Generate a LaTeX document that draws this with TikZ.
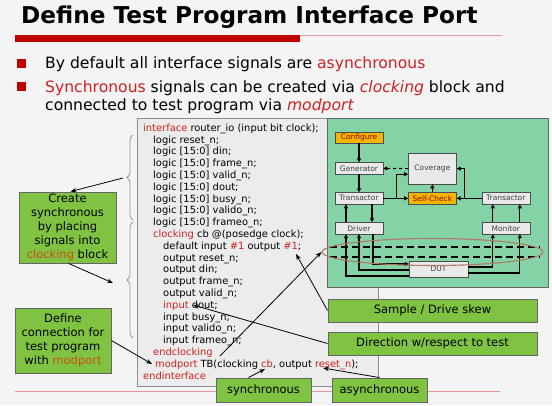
\documentclass[tikz,border=0pt]{standalone}
\usepackage{fontspec}
\setmainfont{DejaVu Sans}
\usetikzlibrary{positioning,arrows.meta,shapes.geometric,decorations.pathreplacing}
\definecolor{pageC}{HTML}{F4F4F4}
\definecolor{codeC}{HTML}{ECECEC}
\definecolor{keyC}{HTML}{D02020}
\definecolor{barC}{HTML}{C00000}
\definecolor{panelC}{HTML}{84D3A7}
\definecolor{unitC}{HTML}{E9E9E9}
\definecolor{goldC}{HTML}{F2B500}
\definecolor{calloutC}{HTML}{80C343}
\definecolor{orangeC}{HTML}{C8500A}
\definecolor{ringC}{HTML}{B07A68}
\newcommand{\kw}[1]{{\color{keyC}#1}}
\newcommand{\hl}[1]{{\color{orangeC}#1}}
\tikzset{
  unit/.style={draw=black!70, fill=unitC, font=\fontsize{7.5}{8}\selectfont, text=black!75,
               inner sep=0pt, minimum width=48pt, minimum height=11.5pt},
  hotunit/.style={unit, fill=goldC, text=red!60!black},
  flow/.style={-{Triangle[length=4pt,width=4pt]}, line width=1.2pt},
  callout/.style={draw=black!60, line width=0.9pt, fill=calloutC, align=center, inner sep=2pt,
                  font=\fontsize{11.5}{14}\selectfont},
  ptr/.style={-{Stealth[length=6pt,width=4.5pt]}, line width=0.8pt},
  curly/.style={decorate, decoration={brace, amplitude=6pt}, draw=black!40, line width=0.8pt},
  bullettxt/.style={anchor=base west, inner sep=0pt, font=\fontsize{15.6}{18}\selectfont},
}

\begin{document}
\begin{tikzpicture}[x=1pt, y=-1pt]
\useasboundingbox[fill=pageC] (0,0) rectangle (552,405);
% title and bullets
\node[anchor=base west, inner sep=0pt, font=\fontsize{23.2}{26}\selectfont\bfseries] (title) at (21,23.5)
  {Define Test Program Interface Port};
\draw[barC!40, line width=1pt] (15,35.5) -- (502,35.5);
\fill[barC] (15,35) rectangle (300,41.5);
\fill[barC] (17,59) rectangle (26,68);
\fill[barC] (17,82) rectangle (26,91);
\node[bullettxt] (line1) at (45,68) {By default all interface signals are \kw{asynchronous}};
\node[bullettxt] (line2) at (45,92.5) {\kw{Synchronous} signals can be created via \kw{\itshape clocking} block and};
\node[bullettxt] (line3) at (45,110.5) {connected to test program via \kw{\itshape modport}};

% code listing
\draw[black!45, fill=codeC] (137,118) rectangle (378,386);
\node[anchor=north west, inner sep=0pt, align=left, font=\fontsize{9.9}{11.8}\selectfont] (code) at (143,123.5) {%
\kw{interface} router\_io (input bit clock);\\
\hspace*{10pt}logic reset\_n;\\
\hspace*{10pt}logic [15:0] din;\\
\hspace*{10pt}logic [15:0] frame\_n;\\
\hspace*{10pt}logic [15:0] valid\_n;\\
\hspace*{10pt}logic [15:0] dout;\\
\hspace*{10pt}logic [15:0] busy\_n;\\
\hspace*{10pt}logic [15:0] valido\_n;\\
\hspace*{10pt}logic [15:0] frameo\_n;\\
\hspace*{10pt}\kw{clocking} cb @(posedge clock);\\
\hspace*{20pt}default input \kw{\#1} output \kw{\#1};\\
\hspace*{20pt}output reset\_n;\\
\hspace*{20pt}output din;\\
\hspace*{20pt}output frame\_n;\\
\hspace*{20pt}output valid\_n;\\
\hspace*{20pt}\kw{input} dout;\\
\hspace*{20pt}input busy\_n;\\
\hspace*{20pt}input valido\_n;\\
\hspace*{20pt}input frameo\_n;\\
\hspace*{10pt}\kw{endclocking}\\
\hspace*{12pt}\kw{modport} TB(clocking \kw{cb}, output \kw{reset\_n});\\
\kw{endinterface}};
\draw[curly] (133,220) -- (133,135);
\draw[curly] (133,338) -- (133,222);
\coordinate (grp1) at (123,178);
\coordinate (grp2) at (113,283);
\coordinate (hsh) at (296,254);
\coordinate (dout) at (193,305);
\coordinate (mdp) at (152,364);
\coordinate (tb) at (220,356);
\coordinate (cbm) at (265,369);
\coordinate (rst) at (323,368);

% testbench panel
\draw[black!60, fill=panelC] (327,118) rectangle (548,287);
\node[hotunit] (conf) at (359,137.5) {Configure};
\node[unit, below=19pt of conf] (gen) {Generator};
\node[unit, below=18pt of gen] (trl) {Transactor};
\node[unit, below=18pt of trl] (drv) {Driver};
\node[hotunit, right=25pt of trl] (sc) {Self-Check};
\node[unit, right=25pt of sc] (trr) {Transactor};
\node[unit, below=18pt of trr] (mon) {Monitor};
\node[unit, above=8pt of sc, minimum height=31pt] (cov) {Coverage};
\node[unit, minimum width=59pt, minimum height=16pt] (dut) at (438.5,269) {DUT};
\draw[flow] (conf) -- (gen);
\draw[flow] (gen) -- (trl);
\draw[flow, dashed] (cov.west) -- (gen.east);
\draw[flow] (trl) -- (sc);
\draw[flow] ([xshift=13pt]trl.east) |- ([yshift=-5.5pt]cov.west);
\draw[flow] (sc) -- (cov);
\draw[flow] (trr) -- (sc);
\draw[flow] ([xshift=-17pt]trr.west) |- (cov.east);
\draw[flow] ([xshift=13pt]trl.south) -- ([xshift=13pt]drv.north);
\draw[flow] ([xshift=-13pt]drv.north) -- ([xshift=-13pt]trl.south);
\draw[flow] ([xshift=-13pt]mon.north) -- ([xshift=-13pt]trr.south);
\draw[flow] ([xshift=14pt]mon.north) -- ([xshift=14pt]trr.south);
\draw[flow] ([xshift=14pt]drv.south) |- ([yshift=5pt]dut.west);
\draw[flow] ([yshift=-1pt]dut.west) -| (drv.south);
\draw[flow] ([yshift=-7pt]dut.west) -| ([xshift=-13pt]drv.south);
\draw[flow] ([yshift=2pt]dut.east) -| ([xshift=-13pt]mon.south);
\draw[flow] ([yshift=-4pt]dut.east) -| ([xshift=14pt]mon.south);
\draw[line width=1.1pt, dash pattern=on 7pt off 4pt] (330,247) -- (540,247);
\draw[line width=1.1pt, dash pattern=on 7pt off 4pt] (330,257) -- (540,257);
\node[ellipse, draw=ringC, line width=1.1pt, minimum width=221pt, minimum height=27pt] (skw) at (432.5,252) {};

% callouts
\draw[barC!40, line width=1.3pt] (15,391.5) -- (500,391.5);
\node[callout, minimum width=97pt, minimum height=69pt] (crt) at (67.5,227.5)
  {Create\\synchronous\\by placing\\signals into\\\hl{clocking} block};
\node[callout, minimum width=96pt, minimum height=65pt] (dfn) at (63,340.5)
  {Define\\connection for\\test program\\with \hl{modport}};
\node[callout, minimum width=209pt, minimum height=23pt] (smp) at (432.5,310.5) {Sample / Drive skew};
\node[callout, minimum width=209pt, minimum height=23pt] (dir) at (432.5,343.5) {Direction w/respect to test};
\node[callout, minimum width=95pt, minimum height=24pt] (syn) at (263.5,390) {synchronous};
\node[callout, minimum width=95pt, minimum height=24pt] (asy) at (379.5,390) {asynchronous};
\draw[ptr] (grp1) -- ([xshift=3pt]crt.north);
\draw[ptr] ([xshift=1pt]crt.south) -- (grp2);
\draw[ptr] (dfn.east) -- (mdp);
\draw[ptr] (smp.west) -- (hsh);
\draw[ptr] (dir.west) -- (dout);
\draw[ptr] (tb) -- (skw.west);
\draw[ptr] ([xshift=-15pt]syn.north) -- (cbm);
\draw[ptr] (asy.north) -- (rst);
\end{tikzpicture}
\end{document}
